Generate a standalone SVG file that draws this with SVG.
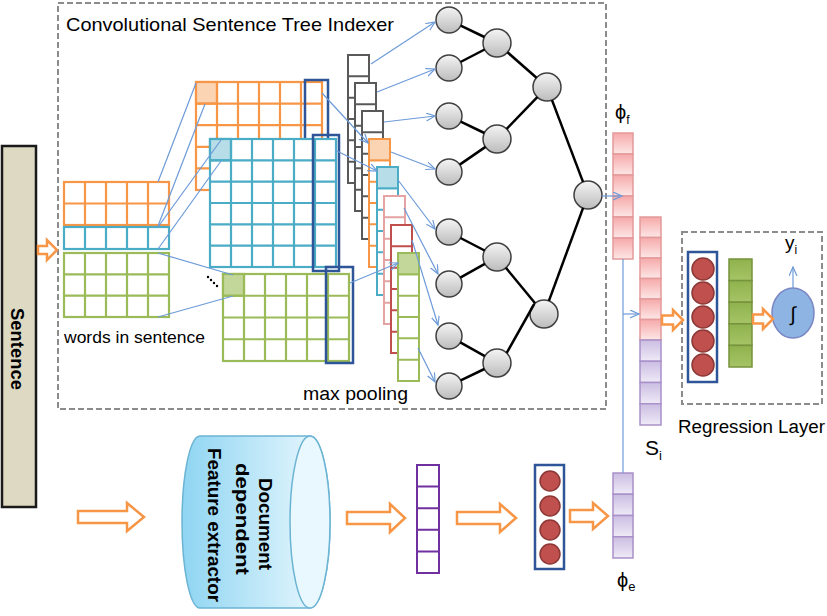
<svg xmlns="http://www.w3.org/2000/svg" xmlns:xlink="http://www.w3.org/1999/xlink" width="827" height="616" viewBox="0 0 827 616">
<defs>
<style>
.t{font-family:"Liberation Sans","DejaVu Sans",Arial,sans-serif;fill:#000}
.b{font-weight:bold}
.dash{fill:none;stroke:#8c8c8c;stroke-width:2;stroke-dasharray:6,3}
.go{fill:#fff;stroke:#f79646;stroke-width:2.2}
.gb{fill:#fff;stroke:#4bacc6;stroke-width:2.2}
.gg{fill:#fff;stroke:#9bbb59;stroke-width:2.2}
.ln{fill:none}
.dk{fill:none;stroke:#2e5597;stroke-width:2.5}
.conn{fill:none;stroke:#6d9bd8;stroke-width:1.2}
.ar{marker-end:url(#ah)}
.edge{stroke:#000;stroke-width:2.5;fill:none}
.node{fill:url(#gnode);stroke:#404040;stroke-width:1.5}
.oa{fill:#fff;stroke:#f79646;stroke-width:2.5}
.pk{fill:url(#gpink);stroke:#e39a9a;stroke-width:1.5}
.pu{fill:url(#gpurp);stroke:#a991c9;stroke-width:1.5}
.rc{fill:#c0504d;stroke:#8c3836;stroke-width:1.5}
</style>
<marker id="ah" markerUnits="userSpaceOnUse" markerWidth="12" markerHeight="10" refX="9" refY="4" orient="auto">
<path d="M0,0 L9,4 L0,8" fill="none" stroke="#6d9bd8" stroke-width="1.2"/>
</marker>
<linearGradient id="gnode" x1="0" y1="0" x2="0" y2="1"><stop offset="0" stop-color="#f4f4f4"/><stop offset="1" stop-color="#bcbcbc"/></linearGradient>
<linearGradient id="gpink" x1="0" y1="0" x2="0" y2="1"><stop offset="0" stop-color="#f6a9a9"/><stop offset="1" stop-color="#fde7e7"/></linearGradient>
<linearGradient id="gpurp" x1="0" y1="0" x2="0" y2="1"><stop offset="0" stop-color="#cbbde2"/><stop offset="1" stop-color="#efeaf7"/></linearGradient>
<linearGradient id="gcyl" x1="0" y1="0" x2="1" y2="0"><stop offset="0" stop-color="#8fd5f2"/><stop offset="1" stop-color="#ecf9fe"/></linearGradient>
<linearGradient id="ggr" x1="0" y1="0" x2="0" y2="1"><stop offset="0" stop-color="#8fb24d"/><stop offset="1" stop-color="#a6c466"/></linearGradient>
<g id="col6"><rect width="21" height="128" fill="#fff"/><path d="M0,21.3H21M0,42.7H21M0,64H21M0,85.3H21M0,106.7H21" fill="none"/></g>
</defs>

<g id="sentence">
<rect x="2" y="146" width="34" height="361" fill="#ddd9c3" stroke="#1a1a1a" stroke-width="2.5"/>
<text class="t b" transform="translate(11,349) rotate(90)" text-anchor="middle" font-size="18" textLength="82" lengthAdjust="spacingAndGlyphs">Sentence</text>
</g>

<g id="indexer-box">
<rect class="dash" x="58" y="3" width="548" height="406"/>
<text class="t" x="66" y="31" font-size="19" textLength="328" lengthAdjust="spacingAndGlyphs">Convolutional Sentence Tree Indexer</text>
</g>

<g id="word-grids">
<rect class="go" x="64" y="182" width="105" height="43"/>
<path class="go ln" d="M85,182V225M106,182V225M127,182V225M148,182V225M64,203.5H169"/>
<rect class="gb" x="64" y="227" width="105" height="22"/>
<path class="gb ln" d="M85,227V249M106,227V249M127,227V249M148,227V249"/>
<rect class="gg" x="64" y="253" width="105" height="64"/>
<path class="gg ln" d="M85,253V317M106,253V317M127,253V317M148,253V317M64,274.3H169M64,295.7H169"/>
<text class="t" x="64" y="343" font-size="17" textLength="141" lengthAdjust="spacingAndGlyphs">words in sentence</text>
</g>

<g id="feature-map-orange">
<rect class="go" x="196" y="82" width="126" height="108"/>
<rect x="196" y="82" width="21" height="21.6" fill="#fbd4b4" stroke="#f79646" stroke-width="2.2"/>
<path class="go ln" d="M217,82V190M238,82V190M259,82V190M280,82V190M301,82V190M196,103.6H322M196,125.2H322M196,146.8H322M196,168.4H322"/>
<rect class="dk" x="305" y="80" width="23" height="112"/>
</g>
<g id="feature-map-blue">
<rect class="gb" x="210" y="139" width="126" height="128"/>
<rect x="210" y="139" width="21" height="21.3" fill="#b6dde8" stroke="#4bacc6" stroke-width="2.2"/>
<path class="gb ln" d="M231,139V267M252,139V267M273,139V267M294,139V267M315,139V267M210,160.3H336M210,181.7H336M210,203H336M210,224.3H336M210,245.7H336"/>
<rect class="dk" x="313" y="135" width="26" height="136"/>
</g>
<g id="feature-map-green">
<rect class="gg" x="223" y="274" width="126" height="87"/>
<rect x="223" y="274" width="21" height="21.75" fill="#c4d79b" stroke="#9bbb59" stroke-width="2.2"/>
<path class="gg ln" d="M244,274V361M265,274V361M286,274V361M307,274V361M328,274V361M223,295.75H349M223,317.5H349M223,339.25H349"/>
<rect class="dk" x="326" y="267" width="27" height="96"/>
<g fill="#000"><circle cx="208" cy="277" r="1.2"/><circle cx="211" cy="280" r="1.2"/><circle cx="214" cy="283" r="1.2"/><circle cx="217" cy="286" r="1.2"/></g>
</g>

<g id="max-pooling">
<use xlink:href="#col6" x="348" y="55" stroke="#595959" stroke-width="2"/>
<use xlink:href="#col6" x="355" y="83" stroke="#595959" stroke-width="2"/>
<use xlink:href="#col6" x="362" y="111" stroke="#595959" stroke-width="2"/>
<use xlink:href="#col6" x="369" y="139" stroke="#f79646" stroke-width="2"/>
<rect x="369" y="139" width="21" height="21.3" fill="#fbd4b4" stroke="#f79646" stroke-width="2"/>
<use xlink:href="#col6" x="377" y="167" stroke="#4bacc6" stroke-width="2"/>
<rect x="377" y="167" width="21" height="21.3" fill="#b6dde8" stroke="#4bacc6" stroke-width="2"/>
<use xlink:href="#col6" x="384" y="196" stroke="#e6a3a3" stroke-width="2"/>
<use xlink:href="#col6" x="391" y="225" stroke="#c0504d" stroke-width="2"/>
<use xlink:href="#col6" x="398" y="253" stroke="#9bbb59" stroke-width="2"/>
<rect x="398" y="253" width="21" height="21.3" fill="#c4d79b" stroke="#9bbb59" stroke-width="2"/>
<text class="t" x="303" y="400" font-size="18" textLength="105" lengthAdjust="spacingAndGlyphs">max pooling</text>
</g>

<g id="tree">
<circle class="node" cx="449" cy="20" r="13"/>
<circle class="node" cx="449" cy="68" r="13"/>
<circle class="node" cx="449" cy="116" r="13"/>
<circle class="node" cx="449" cy="172" r="13"/>
<circle class="node" cx="449" cy="232" r="13"/>
<circle class="node" cx="449" cy="284" r="13"/>
<circle class="node" cx="449" cy="336" r="13"/>
<circle class="node" cx="449" cy="386" r="13"/>
<circle class="node" cx="497" cy="43" r="14"/>
<circle class="node" cx="497" cy="139" r="14"/>
<circle class="node" cx="497" cy="257" r="14"/>
<circle class="node" cx="497" cy="363" r="14"/>
<circle class="node" cx="547" cy="87" r="14"/>
<circle class="node" cx="544" cy="314" r="14"/>
<circle class="node" cx="588" cy="195" r="14"/>
</g>

<g id="phi-f">
<rect class="pk" x="613" y="133" width="20" height="21"/>
<rect class="pk" x="613" y="154" width="20" height="21"/>
<rect class="pk" x="613" y="175" width="20" height="21"/>
<rect class="pk" x="613" y="196" width="20" height="21"/>
<rect class="pk" x="613" y="217" width="20" height="21"/>
<rect class="pk" x="613" y="238" width="20" height="21"/>
<text class="t" x="615" y="119" font-size="20">ϕ<tspan font-size="12" dy="5">f</tspan></text>
</g>

<g id="s-i">
<rect class="pk" x="640" y="217" width="21" height="20.5"/>
<rect class="pk" x="640" y="237.5" width="21" height="20.5"/>
<rect class="pk" x="640" y="258" width="21" height="20.5"/>
<rect class="pk" x="640" y="278.5" width="21" height="20.5"/>
<rect class="pk" x="640" y="299" width="21" height="20.5"/>
<rect class="pk" x="640" y="319.5" width="21" height="20.5"/>
<rect class="pu" x="640" y="340" width="21" height="21.25"/>
<rect class="pu" x="640" y="361.25" width="21" height="21.25"/>
<rect class="pu" x="640" y="382.5" width="21" height="21.25"/>
<rect class="pu" x="640" y="403.75" width="21" height="21.25"/>
<text class="t" x="645" y="455" font-size="21">S<tspan font-size="13" dy="5">i</tspan></text>
</g>

<g id="regression-layer">
<rect class="dash" x="682" y="232" width="140" height="172"/>
<rect x="688" y="252" width="29" height="130" fill="#fff" stroke="#2e5597" stroke-width="2.5"/>
<circle class="rc" cx="703" cy="269" r="11"/>
<circle class="rc" cx="703" cy="293" r="11"/>
<circle class="rc" cx="703" cy="317" r="11"/>
<circle class="rc" cx="703" cy="341" r="11"/>
<circle class="rc" cx="703" cy="365" r="11"/>
<g fill="url(#ggr)" stroke="#77933c" stroke-width="1.5">
<rect x="729" y="259" width="23" height="21.6"/>
<rect x="729" y="280.6" width="23" height="21.6"/>
<rect x="729" y="302.2" width="23" height="21.6"/>
<rect x="729" y="323.8" width="23" height="21.6"/>
<rect x="729" y="345.4" width="23" height="21.6"/>
</g>
<ellipse cx="793" cy="313" rx="21" ry="25" fill="#8db4e2" stroke="#7a86c4" stroke-width="1.5"/>
<text class="t" x="793" y="321" font-size="20" text-anchor="middle">∫</text>
<text class="t" x="785" y="249" font-size="19">y<tspan font-size="12" dy="5">i</tspan></text>
<text class="t" x="678" y="433" font-size="18" textLength="147" lengthAdjust="spacingAndGlyphs">Regression Layer</text>
</g>

<g id="feature-extractor">
<path d="M200,436 H310 A20,86 0 0 1 310,608 H200 A18,86 0 0 1 200,436 Z" fill="url(#gcyl)" stroke="#6cb4d3" stroke-width="1.5"/>
<ellipse cx="310" cy="522" rx="20" ry="86" fill="#e8f8fe" stroke="#6cb4d3" stroke-width="1.5"/>
<text class="t b" transform="translate(259,524) rotate(90)" text-anchor="middle" font-size="19" textLength="92" lengthAdjust="spacingAndGlyphs">Document</text>
<text class="t b" transform="translate(236,519) rotate(90)" text-anchor="middle" font-size="19" textLength="112" lengthAdjust="spacingAndGlyphs">dependent</text>
<text class="t b" transform="translate(208,525) rotate(90)" text-anchor="middle" font-size="19" textLength="154" lengthAdjust="spacingAndGlyphs">Feature extractor</text>
</g>

<g id="doc-vector">
<rect x="417" y="465" width="22" height="108" fill="#fff" stroke="#7030a0" stroke-width="2"/>
<path d="M417,486.6H439M417,508.2H439M417,529.8H439M417,551.4H439" fill="none" stroke="#7030a0" stroke-width="2"/>
</g>

<g id="doc-hidden">
<rect x="535" y="465" width="29" height="104" fill="#fff" stroke="#2e5597" stroke-width="2.5"/>
<circle class="rc" cx="550" cy="481" r="10"/>
<circle class="rc" cx="550" cy="506" r="10"/>
<circle class="rc" cx="550" cy="530" r="10"/>
<circle class="rc" cx="550" cy="554" r="10"/>
</g>

<g id="phi-e">
<rect class="pu" x="613" y="473" width="20" height="21.25"/>
<rect class="pu" x="613" y="494.25" width="20" height="21.25"/>
<rect class="pu" x="613" y="515.5" width="20" height="21.25"/>
<rect class="pu" x="613" y="536.75" width="20" height="21.25"/>
<text class="t" x="617" y="587" font-size="20">ϕ<tspan font-size="13" dy="4">e</tspan></text>
</g>

<g id="connectors">
<g class="conn">
<path d="M158,182L196,83"/>
<path d="M158,226L205,104"/>
<path d="M158,227L221,140"/>
<path d="M158,249L221,161"/>
<path d="M158,253L233,275"/>
<path d="M158,317L233,296"/>
<path class="ar" d="M322,93L368,143"/>
<path class="ar" d="M335,150L377,171"/>
<path class="ar" d="M350,283L398,263"/>
<path class="ar" d="M371,64L435,22"/>
<path class="ar" d="M377,92L435,69"/>
<path class="ar" d="M384,122L435,116"/>
<path class="ar" d="M391,152L435,169"/>
<path class="ar" d="M398,180L435,229"/>
<path class="ar" d="M404,208L438,274"/>
<path class="ar" d="M412,240L438,325"/>
<path class="ar" d="M418,348L435,382"/>
<path class="ar" d="M602,196L622,196"/>
<path d="M623,259V473"/>
<path class="ar" d="M623,314H639"/>
<path class="ar" d="M793,288V267"/>
</g>
<g class="edge">
<path d="M460.7,25.6L484.4,37"/>
<path d="M460.5,62L484.6,49.5"/>
<path d="M460.7,121.6L484.4,133"/>
<path d="M459.7,164.6L485.5,146.9"/>
<path d="M507.5,52.3L536.5,77.7"/>
<path d="M506.7,128.9L537.3,97.1"/>
<path d="M552,100.1L583,181.9"/>
<path d="M460.5,238L484.6,250.5"/>
<path d="M460.3,277.6L484.8,263.9"/>
<path d="M460.3,342.4L484.8,356.1"/>
<path d="M460.7,380.4L484.4,369"/>
<path d="M505.9,267.8L535.1,303.2"/>
<path d="M506.7,352.9L534.3,303.9"/>
<path d="M548.9,300.9L583.1,207.9"/>
</g>
<g class="oa">
<path d="M38,246H47V240L57,250L47,260V254H38Z"/>
<path d="M662,315.5H673V310L683,320L673,330V324.5H662Z"/>
<path d="M753,314.5H763V309L773,319L763,329V323.5H753Z"/>
<path d="M78,511H127V503L144,517L127,531V523H78Z"/>
<path d="M347,512H390V504L405,518L390,532V524H347Z"/>
<path d="M457,512H500V504L516,518L500,532V524H457Z"/>
<path d="M570,510H593V503L608,516L593,529V522H570Z"/>
</g>
</g>
</svg>
